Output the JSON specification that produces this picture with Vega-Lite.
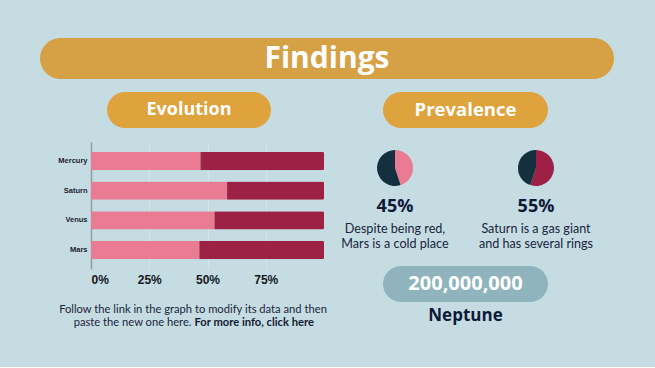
{
  "$schema": "https://vega.github.io/schema/vega-lite/v6.json",
  "background": "#c5dde2",
  "padding": {"left": 40, "top": 38, "right": 41, "bottom": 33},
  "spacing": 13,
  "config": {"view": {"stroke": null}, "font": "Open Sans"},
  "resolve": {"scale": {"color": "independent"}},
  "vconcat": [
    {
      "width": 574, "height": 41,
      "data": {"values": [{"title": "Findings"}]},
      "layer": [
        {"mark": {"type": "rect", "cornerRadius": 20.5, "color": "#d6a145"}, "encoding": {}},
        {"mark": {"type": "text", "color": "#ffffff", "font": "Open Sans", "fontWeight": "bold", "fontSize": 30}, "encoding": {"text": {"field": "title"}}}
      ]
    },
    {
      "hconcat": [
        {
          "vconcat": [
            {
              "hconcat": [
                {"width": 67, "height": 36, "data": {"values": [{}]}, "mark": "text", "encoding": {"text": {"value": ""}}},
                {
                  "width": 164, "height": 36,
                  "data": {"values": [{"label": "Evolution"}]},
                  "layer": [
                    {"mark": {"type": "rect", "cornerRadius": 18, "color": "#dea33c"}, "encoding": {}},
                    {"mark": {"type": "text", "color": "#ffffff", "fontWeight": "bold", "fontSize": 18}, "encoding": {"text": {"field": "label"}}}
                  ]
                }
              ],
              "spacing": 0
            },
            {
              "hconcat": [
                {"width": 17, "height": 127, "data": {"values": [{}]}, "mark": "text", "encoding": {"text": {"value": ""}}},
                {
                  "width": 233, "height": 127,
                  "data": {"values": [
                    {"planet": "Mercury", "series": "Series 1", "value": 47},
                    {"planet": "Mercury", "series": "Series 2", "value": 53},
                    {"planet": "Saturn", "series": "Series 1", "value": 58.4},
                    {"planet": "Saturn", "series": "Series 2", "value": 41.6},
                    {"planet": "Venus", "series": "Series 1", "value": 53},
                    {"planet": "Venus", "series": "Series 2", "value": 47},
                    {"planet": "Mars", "series": "Series 1", "value": 46.5},
                    {"planet": "Mars", "series": "Series 2", "value": 53.5}
                  ]},
                  "mark": {"type": "bar", "cornerRadius": 1.5},
                  "encoding": {
                    "y": {
                      "field": "planet", "type": "nominal",
                      "sort": ["Mercury", "Saturn", "Venus", "Mars"],
                      "scale": {"paddingInner": 0.38, "paddingOuter": 0.33},
                      "axis": {"title": null, "ticks": false, "labelFont": "Liberation Sans", "labelFontSize": 7.5, "labelFontWeight": "bold", "labelColor": "#1d2230", "labelPadding": 4, "domainColor": "#8d9da2", "domainWidth": 1.5}
                    },
                    "x": {
                      "field": "value", "type": "quantitative", "stack": "zero",
                      "scale": {"domain": [0, 100]},
                      "axis": {"title": null, "values": [0, 25, 50, 75], "labelExpr": "datum.value + '%'", "domain": false, "ticks": false, "grid": true, "gridColor": "#d3e5e8", "gridWidth": 1, "labelFont": "Liberation Sans", "labelFontSize": 12, "labelFontWeight": "bold", "labelColor": "#15171f", "labelPadding": 5}
                    },
                    "color": {"field": "series", "type": "nominal", "scale": {"domain": ["Series 1", "Series 2"], "range": ["#e97b92", "#9c2145"]}, "legend": null},
                    "order": {"field": "series"}
                  }
                }
              ],
              "spacing": 0
            },
            {
              "hconcat": [
                {"width": 18, "height": 35, "data": {"values": [{}]}, "mark": "text", "encoding": {"text": {"value": ""}}},
                {
                  "width": 268, "height": 35,
                  "data": {"values": [{"line1": "Follow the link in the graph to modify its data and then", "line2a": "paste the new one here.", "line2b": "For more info, click here"}]},
                  "layer": [
                    {"mark": {"type": "text", "font": "Lato", "fontSize": 11.2, "color": "#1b2440", "dy": -6.5}, "encoding": {"text": {"field": "line1"}}},
                    {"mark": {"type": "text", "font": "Lato", "fontSize": 11.2, "color": "#1b2440", "dy": 6.5, "align": "right", "dx": -1.5}, "encoding": {"text": {"field": "line2a"}}},
                    {"mark": {"type": "text", "font": "Lato", "fontSize": 11.2, "fontWeight": "bold", "color": "#131a33", "dy": 6.5, "align": "left", "dx": 1.5}, "encoding": {"text": {"field": "line2b"}}}
                  ]
                }
              ],
              "spacing": 0
            }
          ],
          "spacing": 14,
          "resolve": {"scale": {"color": "independent"}}
        },
        {
          "vconcat": [
            {
              "vconcat": [
                {
                  "width": 165, "height": 36,
                  "data": {"values": [{"label": "Prevalence"}]},
                  "layer": [
                    {"mark": {"type": "rect", "cornerRadius": 18, "color": "#dea33c"}, "encoding": {}},
                    {"mark": {"type": "text", "color": "#ffffff", "fontWeight": "bold", "fontSize": 18.5}, "encoding": {"text": {"field": "label"}}}
                  ]
                },
                {
                  "hconcat": [
                    {
                      "vconcat": [
                        {
                          "width": 128, "height": 36,
                          "data": {"values": [{"segment": "Mars", "share": 45, "rank": 1}, {"segment": "Rest", "share": 55, "rank": 2}]},
                          "mark": {"type": "arc", "radius": 18},
                          "encoding": {
                            "theta": {"field": "share", "type": "quantitative", "stack": true},
                            "color": {"field": "segment", "type": "nominal", "scale": {"domain": ["Mars", "Rest"], "range": ["#e97b92", "#14303f"]}, "legend": null},
                            "order": {"field": "rank"}
                          }
                        },
                        {
                          "vconcat": [
                            {
                              "width": 128, "height": 22,
                              "data": {"values": [{"pct": "45%"}]},
                              "mark": {"type": "text", "fontWeight": "bold", "fontSize": 18, "color": "#0f1a3a"},
                              "encoding": {"text": {"field": "pct"}}
                            },
                            {
                              "width": 128, "height": 30,
                              "data": {"values": [{"desc": "Despite being red,\nMars is a cold place"}]},
                              "mark": {"type": "text", "font": "Lato", "fontSize": 12.6, "color": "#1b2440", "lineBreak": "\n", "lineHeight": 14.5, "dy": -7},
                              "encoding": {"text": {"field": "desc"}}
                            }
                          ],
                          "spacing": 3
                        }
                      ],
                      "spacing": 10
                    },
                    {
                      "vconcat": [
                        {
                          "width": 128, "height": 36,
                          "data": {"values": [{"segment": "Saturn", "share": 55, "rank": 1}, {"segment": "Rest", "share": 45, "rank": 2}]},
                          "mark": {"type": "arc", "radius": 18},
                          "encoding": {
                            "theta": {"field": "share", "type": "quantitative", "stack": true},
                            "color": {"field": "segment", "type": "nominal", "scale": {"domain": ["Saturn", "Rest"], "range": ["#9c2145", "#14303f"]}, "legend": null},
                            "order": {"field": "rank"}
                          }
                        },
                        {
                          "vconcat": [
                            {
                              "width": 128, "height": 22,
                              "data": {"values": [{"pct": "55%"}]},
                              "mark": {"type": "text", "fontWeight": "bold", "fontSize": 18, "color": "#0f1a3a"},
                              "encoding": {"text": {"field": "pct"}}
                            },
                            {
                              "width": 128, "height": 30,
                              "data": {"values": [{"desc": "Saturn is a gas giant\nand has several rings"}]},
                              "mark": {"type": "text", "font": "Lato", "fontSize": 12.6, "color": "#1b2440", "lineBreak": "\n", "lineHeight": 14.5, "dy": -7},
                              "encoding": {"text": {"field": "desc"}}
                            }
                          ],
                          "spacing": 3
                        }
                      ],
                      "spacing": 10
                    }
                  ],
                  "spacing": 13,
                  "resolve": {"scale": {"color": "independent"}}
                }
              ],
              "spacing": 22, "center": true,
              "resolve": {"scale": {"color": "independent"}}
            },
            {
              "vconcat": [
                {
                  "width": 165, "height": 36,
                  "data": {"values": [{"label": "200,000,000"}]},
                  "layer": [
                    {"mark": {"type": "rect", "cornerRadius": 18, "color": "#8fb4be"}, "encoding": {}},
                    {"mark": {"type": "text", "color": "#ffffff", "fontWeight": "bold", "fontSize": 20}, "encoding": {"text": {"field": "label"}}}
                  ]
                },
                {
                  "width": 165, "height": 20,
                  "data": {"values": [{"label": "Neptune"}]},
                  "mark": {"type": "text", "color": "#0f1a3a", "fontWeight": "bold", "fontSize": 17},
                  "encoding": {"text": {"field": "label"}}
                }
              ],
              "spacing": 4
            }
          ],
          "spacing": 15, "center": true,
          "resolve": {"scale": {"color": "independent"}}
        }
      ],
      "spacing": 3,
      "resolve": {"scale": {"color": "independent"}}
    }
  ]
}
